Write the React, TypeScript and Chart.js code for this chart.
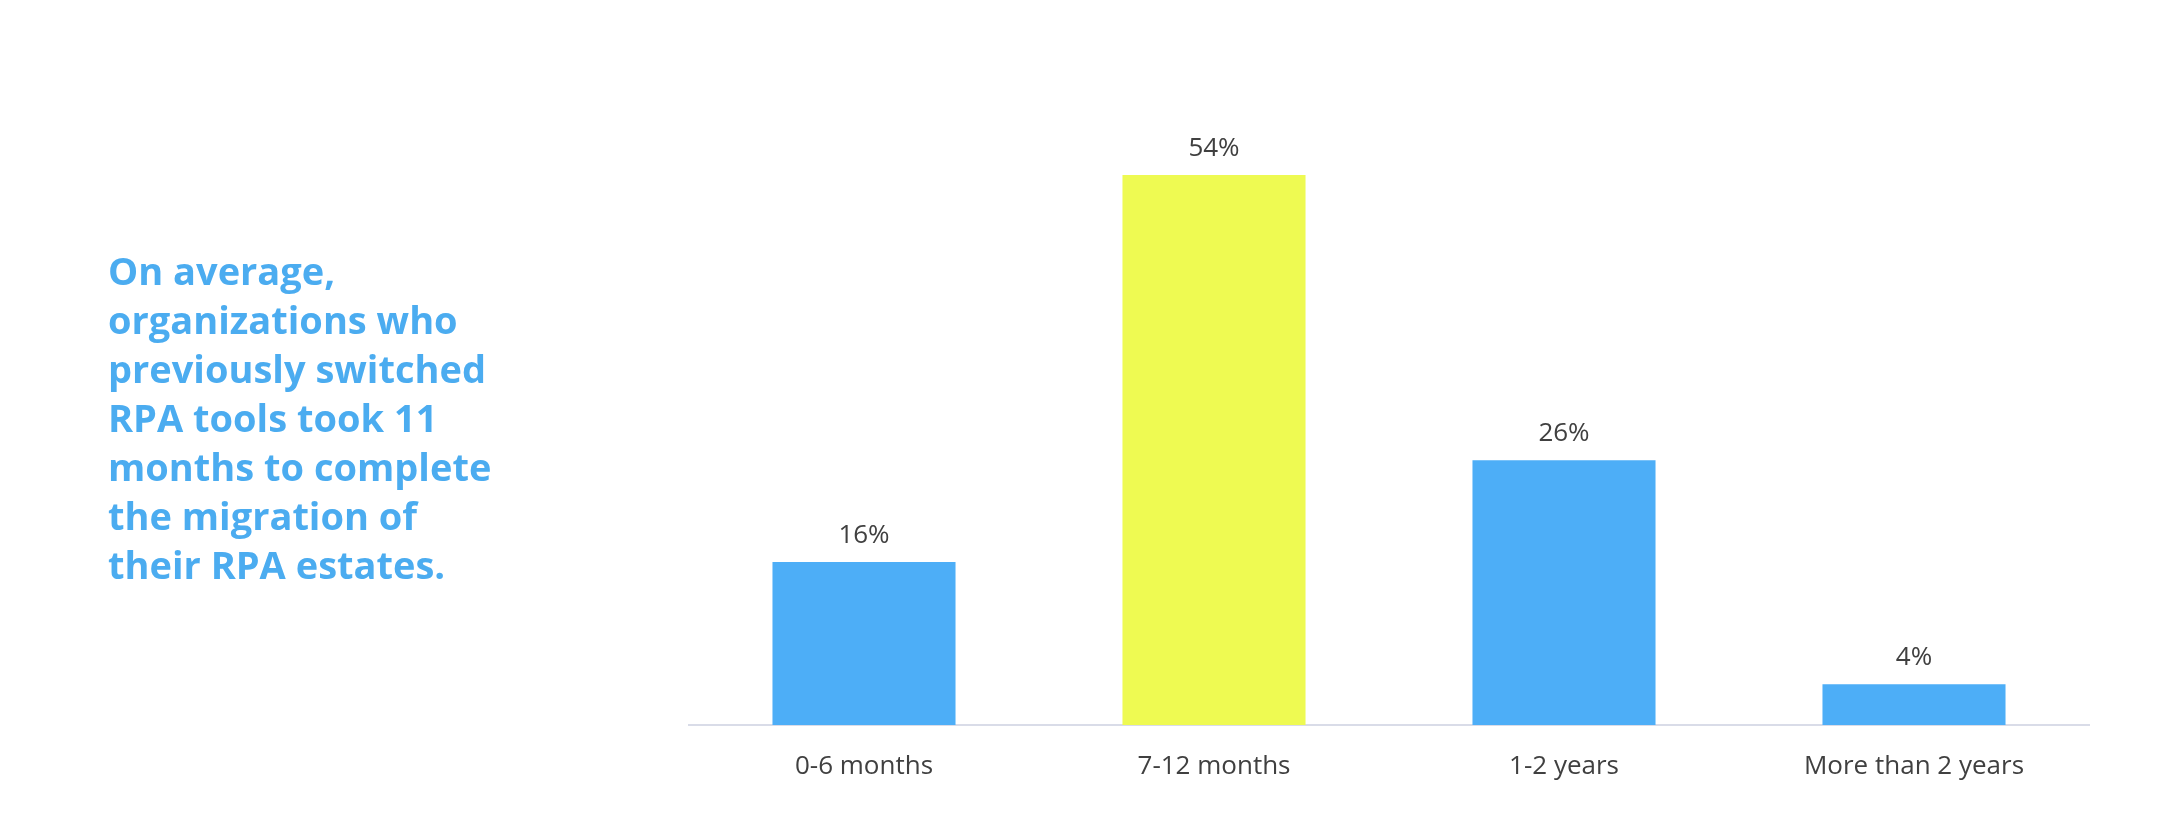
import React, { useEffect, useRef } from "react";
import { Chart, registerables } from "chart.js";

Chart.register(...registerables);

const categories = ["0-6 months", "7-12 months", "1-2 years", "More than 2 years"];
const values = [16, 54, 26, 4];
const barColors = ["#4DAEF7", "#EEFA52", "#4DAEF7", "#4DAEF7"];
const yMax = 60;
const headline = [
  "On average,",
  "organizations who",
  "previously switched",
  "RPA tools took 11",
  "months to complete",
  "the migration of",
  "their RPA estates.",
];

const FONT = "'Open Sans', 'Noto Sans', sans-serif";
const TEXT_COLOR = "#404040";

const valueLabels = {
  id: "valueLabels",
  afterDatasetsDraw(chart: any) {
    const ctx = chart.ctx;
    const meta = chart.getDatasetMeta(0);
    ctx.save();
    ctx.font = `26px ${FONT}`;
    ctx.fillStyle = TEXT_COLOR;
    ctx.textAlign = "center";
    ctx.textBaseline = "alphabetic";
    meta.data.forEach((bar: any, i: number) => {
      ctx.fillText(`${values[i]}%`, bar.x, bar.y - 19);
    });
    ctx.restore();
  },
};

export default function App() {
  const canvasRef = useRef<HTMLCanvasElement | null>(null);

  useEffect(() => {
    if (!canvasRef.current) return;
    const chart = new Chart(canvasRef.current, {
      type: "bar",
      data: {
        labels: categories,
        datasets: [
          {
            data: values,
            backgroundColor: barColors,
            borderWidth: 0,
            barPercentage: 0.523,
            categoryPercentage: 1,
          },
        ],
      },
      options: {
        animation: false,
        responsive: false,
        maintainAspectRatio: false,
        layout: { padding: { left: 681, right: 61, top: 106, bottom: 0 } },
        plugins: {
          legend: { display: false },
          tooltip: { enabled: false },
        },
        scales: {
          x: {
            grid: { display: false, drawTicks: false },
            border: { display: true, color: "#D9DCE8", width: 2 },
            ticks: {
              color: TEXT_COLOR,
              font: { family: FONT, size: 26 },
              padding: 26,
            },
            afterFit: (scale: any) => {
              scale.height = 107;
            },
          },
          y: {
            display: false,
            min: 0,
            max: yMax,
          },
        },
      },
      plugins: [valueLabels],
    });
    return () => chart.destroy();
  }, []);

  return (
    <div style={{ position: "relative", width: 2142, height: 824 }}>
      <canvas ref={canvasRef} width={2142} height={824} style={{ display: "block" }} />
      <div
        style={{
          position: "absolute",
          left: 100,
          top: 238,
          fontFamily: FONT,
          fontWeight: 700,
          fontSize: 38,
          lineHeight: "49px",
          color: "#4BACF0",
          whiteSpace: "nowrap",
        }}
      >
        {headline.map((line, i) => (
          <div key={i}>{line}</div>
        ))}
      </div>
    </div>
  );
}
